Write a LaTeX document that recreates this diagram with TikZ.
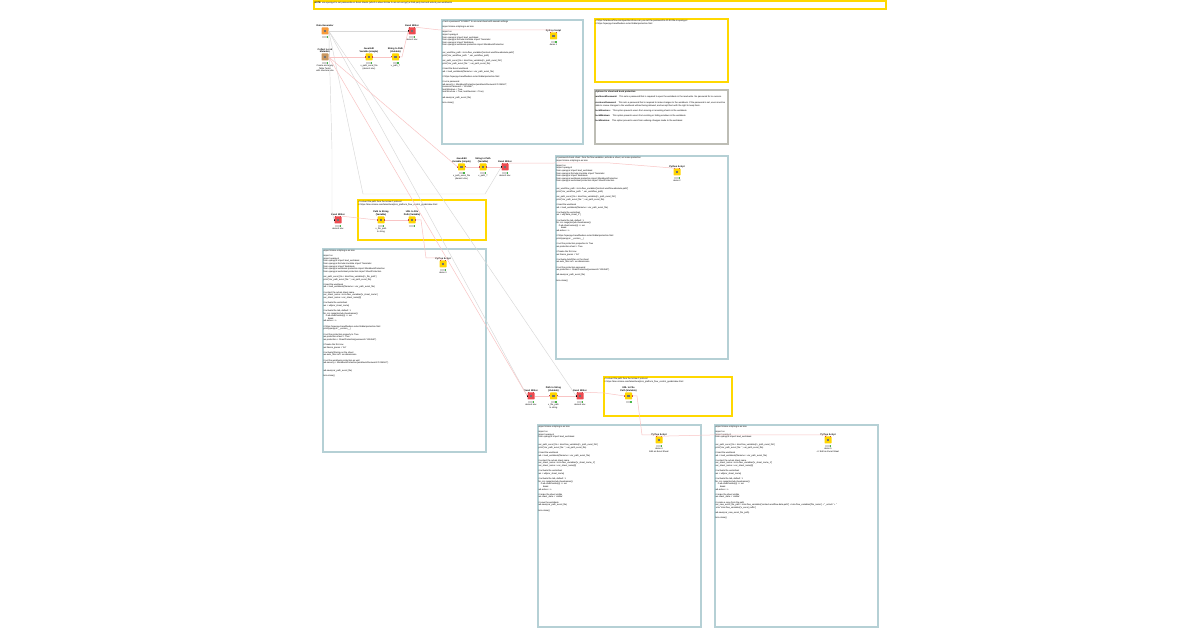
\documentclass[tikz,border=0pt]{standalone}
\usepackage{fontspec}
\setmainfont{Liberation Sans}
\newdimen\px
\px=0.75pt
\definecolor{boxblue}{HTML}{B5D0D5}
\definecolor{boxyellow}{HTML}{FFD800}
\definecolor{boxgrey}{HTML}{BDBDB5}
\definecolor{nodeyellow}{HTML}{FFD500}
\definecolor{nodered}{HTML}{EE4B50}
\definecolor{nodeorange}{HTML}{F79B3C}
\definecolor{nodetan}{HTML}{C9975F}
\definecolor{flowpink}{HTML}{F9C4C4}
\definecolor{datagrey}{HTML}{D8D8D8}
\newcommand\codefont{\fontsize{1.65}{1.96}\selectfont}
\newcommand\nl{\\[1.96pt]}
\newcommand\nll{\\[3.92pt]}
\newcommand\annotext[3]{\begin{minipage}[t][#2\px][t]{#1\px}\codefont\raggedright #3\end{minipage}}
\tikzset{
    anno-blue/.style = {draw=boxblue, fill=white, line width=2.4\px, rectangle, anchor=north west, inner xsep=0.4\px, inner ysep=0.6\px},
    anno-yellow/.style = {anno-blue, draw=boxyellow},
    anno-grey/.style = {anno-blue, draw=boxgrey},
    node-label/.style = {font=\fontsize{1.75}{1.95}\selectfont\bfseries, align=center, inner sep=0pt},
    node-text/.style = {font=\fontsize{1.65}{1.95}\selectfont, align=center, inner sep=0pt},
    knime-node/.style = {rectangle, rounded corners=0.6\px, minimum size=7\px, inner sep=0pt, fill=nodeyellow, text=black!55},
    red-node/.style = {knime-node, fill=nodered},
    status-grey/.style = {fill=black!18, minimum width=4.4\px, minimum height=2\px, inner sep=0pt, anchor=west},
    status-green/.style = {fill=green!60!black!70, minimum width=1.6\px, minimum height=2\px, inner sep=0pt, anchor=west},
    flow-line/.style = {draw=flowpink, line width=0.5\px},
    data-line/.style = {draw=datagrey, line width=0.45\px},
    port-red/.style = {fill=nodered!85!black, inner sep=0pt, minimum size=1.2\px},
    port-black/.style = {fill=black, inner sep=0pt, minimum size=1.2\px},
}
\newcommand\glyph{\rule{2.8\px}{2.6\px}}
% style, name, position, title, caption
\newcommand\knimenode[5]{
    \node[#1, label={[node-label, yshift=0.3\px]above:#4}, label={[node-text, yshift=-3.8\px]below:#5}] (#2) at (#3) {\glyph};
    \node[status-grey] (#2-bar) at ([xshift=-3\px, yshift=-2.2\px]#2.south) {};
    \node[status-green] (#2-ok) at ([xshift=1.4\px, yshift=-2.2\px]#2.south) {};
}
\newcommand\varports[1]{
    \node[port-red] (#1-in) at (#1.west) {};
    \node[port-red] (#1-out) at (#1.east) {};
}
\newcommand\topports[1]{
    \node[port-red] (#1-top-a) at ([xshift=1\px]#1.north west) {};
    \node[port-red] (#1-top-b) at ([xshift=-1\px]#1.north east) {};
}
\newcommand\writeports[1]{
    \node[port-black] (#1-in) at (#1.west) {};
    \topports{#1}
}

\begin{document}
\begin{tikzpicture}[x=1\px, y=-1\px, label distance=0pt]
\useasboundingbox[fill=white] (0,0) rectangle (1200,630);

% annotations
\node[anno-yellow] (banner) at (313,0) {\annotext{570.8}{6.4}{\textbf{NOTE:} use openpyxl to set passwords on Excel sheets (which is about Knime it can not encrypt) a third party tool and unlock your workbooks}};

\node[anno-blue] (box-one) at (441,19) {\annotext{139.8}{122.4}{\# test a password "1234567" to an excel sheet with several settings\nl
import knime.scripting.io as knio\nl
import os\\
import openpyxl\\
from openpyxl import load\_workbook\\
from openpyxl.formula.translate import Translator\\
from openpyxl import Workbook\\
from openpyxl.workbook.protection import WorkbookProtection\nll
var\_workflow\_path = knio.flow\_variables['context.workflow.absolute-path']\\
print("var\_workflow\_path: ", var\_workflow\_path)\nl
var\_path\_excel\_file = knio.flow\_variables['v\_path\_excel\_file']\\
print("var\_path\_excel\_file: ", var\_path\_excel\_file)\nl
\# load the Excel workbook\\
wb = load\_workbook(filename = var\_path\_excel\_file)\nl
\# https://openpyxl.readthedocs.io/en/stable/protection.html\nl
\# set a password\\
wb.security = WorkbookProtection(workbookPassword='1234567',\\
revisionsPassword = '1234567',\\
lockWindows = True,\\
lockStructure = True, lockRevision = True)\nl
wb.save(var\_path\_excel\_file)\nl
knio.close()}};

\node[anno-yellow] (box-links) at (594,18) {\annotext{131.8}{61.4}{\# https://stackoverflow.com/questions/how-can-you-set-the-password-to-XLSX-file-in-openpyxl\\
\# https://openpyxl.readthedocs.io/en/stable/protection.html}};

\node[anno-grey] (box-options) at (594,89) {\annotext{131.8}{52.4}{\textbf{Options for sheet and book protection}\\[2.2pt]
\textbf{workbookPassword:}\quad This sets a password that is required to open the workbook in the read-write. No password for no access.\\[2.2pt]
\textbf{revisionsPassword:}\quad This sets a password that is required to make changes to the workbook. If the password is set, users must be able to review changes to the workbook without being allowed, and accept them with the right to keep them.\\[2.2pt]
\textbf{lockStructure:}\quad This option prevents users from moving or renaming sheets in the workbook\\[1.9pt]
\textbf{lockWindows:}\quad This option prevents users from resizing or hiding windows in the workbook\\[1.9pt]
\textbf{lockRevision:}\quad This option prevents users from undoing changes made to the workbook}};

\node[anno-blue] (box-two) at (555,155) {\annotext{170.8}{201.4}{\# password-check sheet: from the flow variables, activate a sheet, set some protection\\
import knime.scripting.io as knio\nl
import os\\
import openpyxl\\
from openpyxl import load\_workbook\\
from openpyxl.formula.translate import Translator\\
from openpyxl import Workbook\\
from openpyxl.workbook.protection import WorkbookProtection\\
from openpyxl.worksheet.protection import SheetProtection\nll
var\_workflow\_path = knio.flow\_variables['context.workflow.absolute-path']\\
print("var\_workflow\_path: ", var\_workflow\_path)\nl
var\_path\_excel\_file = knio.flow\_variables['v\_path\_excel\_file']\\
print("var\_path\_excel\_file: ", var\_path\_excel\_file)\nl
\# load the workbook\\
wb = load\_workbook(filename = var\_path\_excel\_file)\nl
\# activate the worksheet\\
ws = wb["data\_sheet\_1"]\nl
\# activate the tab, default: 1\\
for s in range(len(wb.sheetnames)):\\
\quad if wb.sheetnames[s] == ws:\\
\quad\quad break\\
wb.active = s\nl
\# https://openpyxl.readthedocs.io/en/stable/protection.html\\
print(openpyxl.\_\_version\_\_)\nl
\# set the protection properties to True\\
ws.protection.sheet = True\nl
\# freeze the first row\\
ws.freeze\_panes = 'A2'\nl
\# activate AutoFilter on the sheet\\
ws.auto\_filter.ref = ws.dimensions\nl
\# set the protection password\\
ws.protection = SheetProtection(password='1234567')\nl
wb.save(var\_path\_excel\_file)\nl
knio.close()}};

\node[anno-yellow] (box-url-one) at (357,199) {\annotext{126.8}{38.4}{\# convert the path from the knime:// protocol\\
\# https://docs.knime.com/latest/analytics\_platform\_flow\_control\_guide/index.html}};

\node[anno-blue] (box-three) at (322,248) {\annotext{161.8}{201.4}{import knime.scripting.io as knio\nl
import os\\
import openpyxl\\
from openpyxl import load\_workbook\\
from openpyxl.formula.translate import Translator\\
from openpyxl import Workbook\\
from openpyxl.workbook.protection import WorkbookProtection\\
from openpyxl.worksheet.protection import SheetProtection\nl
var\_path\_excel\_file = knio.flow\_variables['v\_file\_path']\\
print("var\_path\_excel\_file: ", var\_path\_excel\_file)\nl
\# load the workbook\\
wb = load\_workbook(filename = var\_path\_excel\_file)\nl
\# extract the actual sheet name\\
var\_sheet\_name = knio.flow\_variables['v\_sheet\_name']\\
var\_sheet\_name = var\_sheet\_name[0]\nl
\# activate the worksheet\\
ws = wb[var\_sheet\_name]\nl
\# activate the tab, default: 1\\
for s in range(len(wb.sheetnames)):\\
\quad if wb.sheetnames[s] == ws:\\
\quad\quad break\\
wb.active = s\nl
\# https://openpyxl.readthedocs.io/en/stable/protection.html\\
print(openpyxl.\_\_version\_\_)\nl
\# set the protection property to True\\
ws.protection.sheet = True\\
ws.protection = SheetProtection(password='1234567')\nl
\# freeze the first row\\
ws.freeze\_panes = 'A2'\nl
\# activate filtering on the sheet\\
ws.auto\_filter.ref = ws.dimensions\nl
\# set the workbook protection as well\\
wb.security = WorkbookProtection(workbookPassword='1234567')\nll
wb.save(var\_path\_excel\_file)\nl
knio.close()}};

\node[anno-yellow] (box-url-two) at (603,376) {\annotext{126.8}{37.4}{\# convert the path from the knime:// protocol\\
\# https://docs.knime.com/latest/analytics\_platform\_flow\_control\_guide/index.html}};

\node[anno-blue] (box-four) at (537,424) {\annotext{161.8}{200.4}{import knime.scripting.io as knio\nl
import os\\
import openpyxl\\
from openpyxl import load\_workbook\nll
var\_path\_excel\_file = knio.flow\_variables['v\_path\_excel\_file']\\
print("var\_path\_excel\_file: ", var\_path\_excel\_file)\nl
\# load the workbook\\
wb = load\_workbook(filename = var\_path\_excel\_file)\nl
\# extract the actual sheet name\\
var\_sheet\_name = knio.flow\_variables['v\_sheet\_name\_1']\\
var\_sheet\_name = var\_sheet\_name[0]\nl
\# activate the worksheet\\
ws = wb[var\_sheet\_name]\nl
\# activate the tab, default: 1\\
for s in range(len(wb.sheetnames)):\\
\quad if wb.sheetnames[s] == ws:\\
\quad\quad break\\
wb.active = s\nl
\# make the sheet visible\\
ws.sheet\_state = 'visible'\nl
\# save the workbook\\
wb.save(var\_path\_excel\_file)\nl
knio.close()}};

\node[anno-blue] (box-five) at (714,424) {\annotext{161.8}{200.4}{import knime.scripting.io as knio\nl
import os\\
import openpyxl\\
from openpyxl import load\_workbook\nll
var\_path\_excel\_file = knio.flow\_variables['v\_path\_excel\_file']\\
print("var\_path\_excel\_file: ", var\_path\_excel\_file)\nl
\# load the workbook\\
wb = load\_workbook(filename = var\_path\_excel\_file)\nl
\# extract the actual sheet name\\
var\_sheet\_name = knio.flow\_variables['v\_sheet\_name\_1']\\
var\_sheet\_name = var\_sheet\_name[0]\nl
\# activate the worksheet\\
ws = wb[var\_sheet\_name]\nl
\# activate the tab, default: 1\\
for s in range(len(wb.sheetnames)):\\
\quad if wb.sheetnames[s] == ws:\\
\quad\quad break\\
wb.active = s\nl
\# make the sheet visible\\
ws.sheet\_state = 'visible'\nl
\# create a copy from the path\\
var\_new\_excel\_file\_path = knio.flow\_variables['context.workflow.data-path'] + knio.flow\_variables['file\_name'] + "\_unlock" + "\\
.xlsx" knio.flow\_variables['v\_excel\_suffix']\nl
wb.save(var\_new\_excel\_file\_path)\nl
knio.close()}};

% first row of nodes
\knimenode{knime-node, fill=nodeorange}{data-gen}{325,31}{Data Generator}{}
\knimenode{knime-node, fill=nodetan}{collect}{325,57}{Collect Local\\Metadata}{Create and apply\\Table Tester\\with structure.xlsx}
\knimenode{knime-node}{java-one}{369,57}{Java Edit\\Variable (simple)}{v\_path\_excel\_file\\(demo1.xlsx)}
\varports{java-one}
\knimenode{knime-node}{path-one}{395.5,57}{String to Path\\(Variable)}{v\_path\_?}
\varports{path-one}
\knimenode{red-node}{writer-one}{412,31}{Excel Writer}{demo1.xlsx}
\writeports{writer-one}
\knimenode{knime-node}{python-one}{553.5,36}{Python Script}{demo 1}
\topports{python-one}

% second row of nodes
\knimenode{knime-node}{java-two}{461.5,167}{Java Edit\\Variable (simple)}{v\_path\_excel\_file\\(demo2.xlsx)}
\varports{java-two}
\knimenode{knime-node}{path-two}{483,167}{String to Path\\(Variable)}{v\_path\_?}
\varports{path-two}
\knimenode{red-node}{writer-two}{505,167}{Excel Writer}{demo2.xlsx}
\writeports{writer-two}
\knimenode{knime-node}{python-two}{677,172}{Python Script}{demo 2}
\topports{python-two}

% third row of nodes
\knimenode{red-node}{writer-three}{338,220}{Excel Writer}{demo3.xlsx}
\writeports{writer-three}
\knimenode{knime-node}{string-three}{381,220}{Path to String\\(Variable)}{v\_file\_path\\to string}
\varports{string-three}
\knimenode{knime-node}{url-three}{412,220}{URL to File\\Path (Variable)}{}
\varports{url-three}
\knimenode{knime-node}{python-three}{443,264}{Python Script}{demo 3}
\topports{python-three}

% fourth row of nodes
\knimenode{red-node}{writer-four}{531,396}{Excel Writer}{demo4.xlsx}
\writeports{writer-four}
\knimenode{knime-node}{string-four}{553.5,396}{Path to String\\(Variable)}{v\_file\_path\\to string}
\varports{string-four}
\knimenode{red-node}{writer-five}{580,396}{Excel Writer}{demo4.xlsx}
\writeports{writer-five}
\knimenode{knime-node}{url-four}{628.5,396}{URL to File\\Path (Variable)}{}
\varports{url-four}
\knimenode{knime-node}{python-four}{659,440}{Python Script}{demo 4\\Edit an Excel Sheet}
\topports{python-four}
\knimenode{knime-node}{python-five}{828,440}{Python Script}{demo 5\\c:/ Edit an Excel Sheet}
\topports{python-five}

% data connections
\draw[data-line] (data-gen.east) -- (writer-one.west);
\draw[data-line] (data-gen.east) -- (332,150) -- (332,212) -- (writer-three.west);
\draw[data-line] (data-gen.east) -- (363,194) -- (485,194) -- (writer-two.west);
\draw[data-line] (data-gen.east) -- (writer-four.west);
\draw[data-line] (data-gen.east) -- (writer-five.west);

% flow variable connections
\draw[flow-line] (collect.east) -- (java-one.west);
\draw[flow-line] (java-one.east) -- (path-one.west);
\draw[flow-line] (path-one.east) -- (402,57) -- (407,36) -- (writer-one.west);
\draw[flow-line] (writer-one.north east) -- (440,30) -- (550,30) -- (python-one.north);
\draw[flow-line] (collect.east) -- (java-two.west);
\draw[flow-line] (java-two.east) -- (path-two.west);
\draw[flow-line] (path-two.east) -- (writer-two.west);
\draw[flow-line] (writer-two.north east) -- (555,163) -- (610,163) -- (672,168) -- (python-two.north);
\draw[flow-line] (writer-three.north east) -- (string-three.west);
\draw[flow-line] (string-three.east) -- (url-three.west);
\draw[flow-line] (url-three.east) -- (421,220) -- (426,258) -- (439,258) -- (python-three.north);
\draw[flow-line] (collect.east) -- (writer-four.west);
\draw[flow-line] (writer-four.east) -- (string-four.west);
\draw[flow-line] (string-four.east) -- (writer-five.west);
\draw[flow-line] (writer-five.north east) -- (604,393) -- (url-four.west);
\draw[flow-line] (url-four.east) -- (637,396) -- (642,435) -- (656,435) -- (python-four.north);
\draw[flow-line] (python-four.north) -- (710,435) -- (825,435) -- (python-five.north);
\end{tikzpicture}
\end{document}
